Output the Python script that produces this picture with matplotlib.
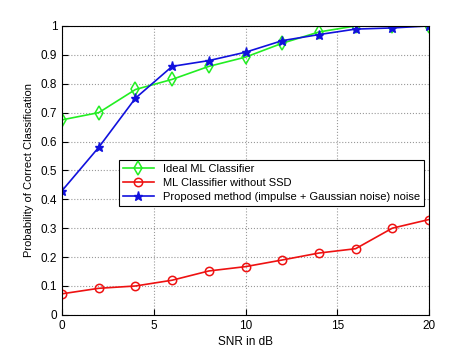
import numpy as np
import matplotlib
matplotlib.use("Agg")
import matplotlib.pyplot as plt

plt.rcParams['font.family'] = ['Liberation Sans', 'DejaVu Sans']

snr = [0, 2, 4, 6, 8, 10, 12, 14, 16, 18, 20]
ideal_ml = [0.675, 0.70, 0.78, 0.815, 0.86, 0.892, 0.94, 0.979, 1.0, 1.0, 1.0]
ml_no_ssd = [0.073, 0.092, 0.10, 0.12, 0.152, 0.167, 0.19, 0.214, 0.229, 0.30, 0.33]
proposed = [0.43, 0.58, 0.75, 0.86, 0.88, 0.909, 0.949, 0.97, 0.989, 0.993, 1.0]

labels = ["Ideal ML Classifier", "ML Classifier without SSD",
          "Proposed method (impulse + Gaussian noise) noise"]

fig = plt.figure(figsize=(4.74, 3.55), dpi=100)
ax = fig.add_axes([0.131, 0.113, 0.774, 0.814])

ax.plot(snr, ideal_ml, color='#22ee22', marker='d', mfc='none', ms=7, mew=1.1, lw=1.2, label=labels[0])
ax.plot(snr, ml_no_ssd, color='#ee1111', marker='o', mfc='none', ms=6, mew=1.1, lw=1.2, label=labels[1])
ax.plot(snr, proposed, color='#1111dd', marker='*', ms=6.5, lw=1.2, label=labels[2])

ax.set_xlim(0, 20)
ax.set_ylim(0, 1)
ax.set_xticks([0, 5, 10, 15, 20])
ax.set_yticks(np.arange(0, 1.01, 0.1))
ax.set_yticklabels(['0', '0.1', '0.2', '0.3', '0.4', '0.5', '0.6', '0.7', '0.8', '0.9', '1'])
ax.tick_params(direction='in', labelsize=8.5, length=4)
ax.grid(True, linestyle=':', color='#999999', lw=0.8)
ax.set_xlabel('SNR in dB', fontsize=8.5, labelpad=3)
ax.set_ylabel('Probability of Correct Classification', fontsize=8, labelpad=5)

leg = ax.legend(loc='upper left', bbox_to_anchor=(0.155, 0.536), fontsize=8,
                fancybox=False, framealpha=1, edgecolor='black',
                handlelength=2.8, borderaxespad=0, labelspacing=0.35, borderpad=0.35)
leg.get_frame().set_linewidth(0.8)

fig.savefig('out.png', dpi=100)
